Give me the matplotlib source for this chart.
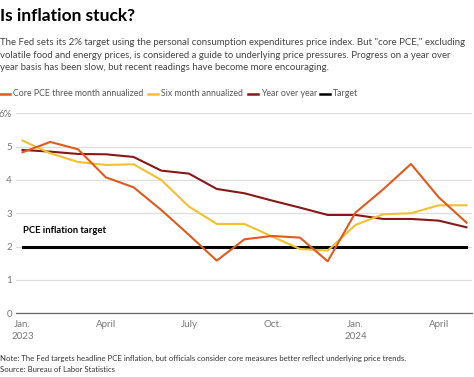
import matplotlib.pyplot as plt
from matplotlib.lines import Line2D
import numpy as np

plt.rcParams['font.family'] = ['Lato', 'DejaVu Sans']

months = ["Jan. 2023", "Feb. 2023", "Mar. 2023", "Apr. 2023", "May 2023", "Jun. 2023",
          "Jul. 2023", "Aug. 2023", "Sep. 2023", "Oct. 2023", "Nov. 2023", "Dec. 2023",
          "Jan. 2024", "Feb. 2024", "Mar. 2024", "Apr. 2024", "May 2024"]
three_month = [4.83, 5.14, 4.92, 4.08, 3.78, 3.10, 2.35, 1.58, 2.22, 2.32, 2.27, 1.56,
               3.02, 3.72, 4.48, 3.48, 2.72]
six_month = [5.18, 4.80, 4.54, 4.45, 4.47, 4.00, 3.20, 2.68, 2.68, 2.30, 1.93, 1.88,
             2.65, 2.97, 3.00, 3.24, 3.24]
year_over_year = [4.90, 4.85, 4.78, 4.77, 4.69, 4.28, 4.19, 3.73, 3.60, 3.38, 3.17, 2.95,
                  2.95, 2.83, 2.83, 2.78, 2.58]
target = [2.0] * len(months)

tick_pos = [0, 3, 6, 9, 12, 15]
tick_labels = ["Jan.\n2023", "April", "July", "Oct.", "Jan.\n2024", "April"]
y_ticks = [0, 1, 2, 3, 4, 5, 6]
y_labels = ["0", "1", "2", "3", "4", "5", "6%"]

c_three = "#e05a1e"
c_six = "#f2c12e"
c_yoy = "#861818"

fig = plt.figure(figsize=(4.74, 3.77), dpi=100)
ax = fig.add_axes([16 / 474, 0.169, 456 / 474, 0.5305])

x = np.arange(len(months))
ax.plot(x, target, color="black", lw=2.2, zorder=2)
ax.plot(x, year_over_year, color=c_yoy, lw=1.5, zorder=3)
ax.plot(x, six_month, color=c_six, lw=1.5, zorder=3)
ax.plot(x, three_month, color=c_three, lw=1.5, zorder=4)

ax.set_xlim(-0.235, 16.2)
ax.set_ylim(0, 6)
ax.set_yticks(y_ticks)
ax.set_yticklabels(y_labels)
ax.set_xticks(tick_pos)
ax.set_xticklabels(tick_labels, linespacing=1.35)
ax.tick_params(axis="y", length=0, pad=3, labelsize=7, labelcolor="#777777")
ax.tick_params(axis="x", length=0, pad=5, labelsize=7, labelcolor="#777777")
ax.grid(axis="y", color="#dddddd", lw=0.9)
ax.set_axisbelow(True)
for s in ["top", "right", "left"]:
    ax.spines[s].set_visible(False)
ax.spines["bottom"].set_color("#666666")
ax.spines["bottom"].set_linewidth(0.9)

ax.text(0.0, 2.35, "PCE inflation target", fontsize=6.8, fontweight="bold", ha="left", va="bottom")

fig.text(0.0, 1 - 16 / 377, "Is inflation stuck?", fontsize=12.5, fontweight="bold", ha="left", va="center")
fig.text(0.0, 1 - 55 / 377, 'The Fed sets its 2% target using the personal consumption expenditures price index. But "core PCE," excluding\n'
         'volatile food and energy prices, is considered a guide to underlying price pressures. Progress on a year over\n'
         'year basis has been slow, but recent readings have become more encouraging.',
         fontsize=6.9, color="#444444", ha="left", va="center", linespacing=1.45)

legend_items = [("Core PCE three month annualized", c_three, 0),
                ("Six month annualized", c_six, 148),
                ("Year over year", c_yoy, 248),
                ("Target", "black", 320)]
ly = 1 - 94 / 377
for label, col, px in legend_items:
    fig.add_artist(Line2D([px / 474, (px + 10) / 474], [ly, ly], color=col, lw=1.8))
    fig.text((px + 13) / 474, ly, label, fontsize=6.3, color="#555555", ha="left", va="center")

fig.text(0.0, 1 - 358 / 377, "Note: The Fed targets headline PCE inflation, but officials consider core measures better reflect underlying price trends.",
         fontsize=5.6, color="#333333", ha="left", va="center")
fig.text(0.0, 1 - 369 / 377, "Source: Bureau of Labor Statistics", fontsize=5.6, color="#333333", ha="left", va="center")

fig.savefig("out.png", dpi=100)
